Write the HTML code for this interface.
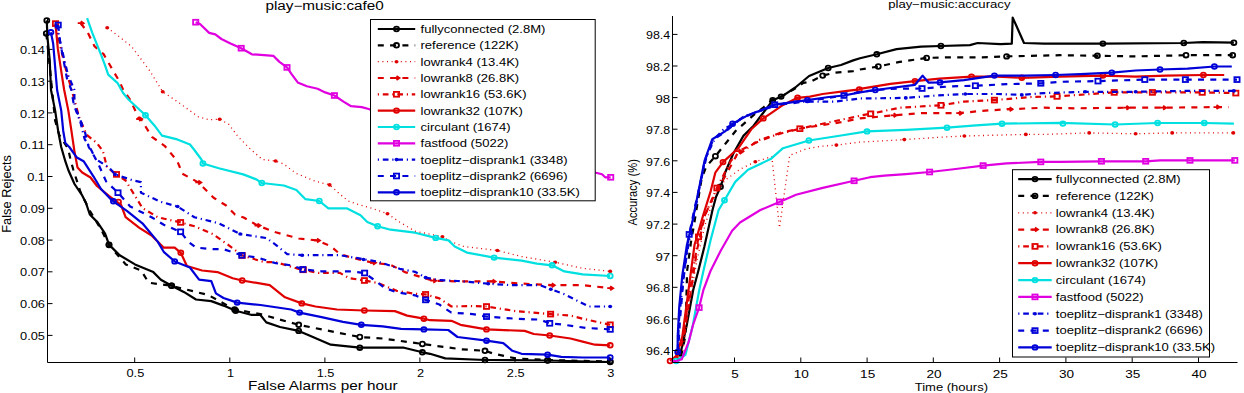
<!DOCTYPE html>
<html><head><meta charset="utf-8"><title>plot</title>
<style>html,body{margin:0;padding:0;background:#fff;overflow:hidden;} svg{display:block;font-family:"Liberation Sans",sans-serif;}</style>
</head><body>
<svg width="1244" height="393" viewBox="0 0 1244 393" font-family="Liberation Sans, sans-serif" fill="#000">
<rect width="1244" height="393" fill="#fff"/>
<polyline points="46.8,20.4 47.4,36.9 49.7,59.8 51.0,90.0 55.1,110.4 58.1,130.7 61.2,147.0 65.3,161.2 68.3,170.0 74.5,184.0 82.2,195.4 86.0,203.0 89.8,214.5 97.4,222.1 105.1,233.6 109.0,244.6 119.7,255.3 135.0,264.4 153.3,272.1 160.9,279.7 171.6,285.8 183.8,291.9 196.0,299.5 211.3,301.1 223.5,305.6 235.7,310.8 251.0,314.8 260.2,314.8 266.3,322.4 280.0,327.0 298.7,330.9 309.4,335.5 330.8,344.7 359.8,347.7 404.0,347.7 422.4,352.3 430.0,353.8 445.3,358.4 485.0,360.0 547.6,360.5 610.2,362.0" fill="none" stroke="#000000" stroke-width="2.2" stroke-linejoin="round"/>
<ellipse cx="46.8" cy="20.4" rx="2.5" ry="2.3" fill="none" stroke="#000000" stroke-width="1.8"/>
<ellipse cx="109.0" cy="244.6" rx="2.5" ry="2.3" fill="none" stroke="#000000" stroke-width="1.8"/>
<ellipse cx="171.6" cy="285.8" rx="2.5" ry="2.3" fill="none" stroke="#000000" stroke-width="1.8"/>
<ellipse cx="235.7" cy="310.8" rx="2.5" ry="2.3" fill="none" stroke="#000000" stroke-width="1.8"/>
<ellipse cx="298.7" cy="330.9" rx="2.5" ry="2.3" fill="none" stroke="#000000" stroke-width="1.8"/>
<ellipse cx="359.8" cy="347.7" rx="2.5" ry="2.3" fill="none" stroke="#000000" stroke-width="1.8"/>
<ellipse cx="422.4" cy="352.3" rx="2.5" ry="2.3" fill="none" stroke="#000000" stroke-width="1.8"/>
<ellipse cx="485.0" cy="360.0" rx="2.5" ry="2.3" fill="none" stroke="#000000" stroke-width="1.8"/>
<ellipse cx="547.6" cy="360.5" rx="2.5" ry="2.3" fill="none" stroke="#000000" stroke-width="1.8"/>
<ellipse cx="610.2" cy="362.0" rx="2.5" ry="2.3" fill="none" stroke="#000000" stroke-width="1.8"/>
<polyline points="46.3,33.5 48.6,55.3 50.9,78.2 53.1,100.2 55.1,120.5 59.2,134.8 68.3,149.0 70.4,159.2 73.4,170.0 80.3,191.6 89.8,210.7 101.3,229.8 109.0,245.0 115.1,252.2 125.8,264.4 141.1,270.5 148.7,282.7 171.6,285.8 183.8,288.9 208.2,295.0 234.6,309.5 260.5,314.1 298.7,324.8 321.6,329.4 359.8,337.0 382.7,338.5 422.4,344.0 460.5,349.2 485.0,350.8 494.1,353.8 515.5,358.4 546.0,360.0 610.2,361.5" fill="none" stroke="#000000" stroke-width="2.2" stroke-dasharray="6 6.3" stroke-linejoin="round"/>
<ellipse cx="46.3" cy="33.5" rx="2.5" ry="2.3" fill="none" stroke="#000000" stroke-width="1.8"/>
<ellipse cx="109.0" cy="245.0" rx="2.5" ry="2.3" fill="none" stroke="#000000" stroke-width="1.8"/>
<ellipse cx="171.6" cy="285.8" rx="2.5" ry="2.3" fill="none" stroke="#000000" stroke-width="1.8"/>
<ellipse cx="234.6" cy="309.5" rx="2.5" ry="2.3" fill="none" stroke="#000000" stroke-width="1.8"/>
<ellipse cx="298.7" cy="324.8" rx="2.5" ry="2.3" fill="none" stroke="#000000" stroke-width="1.8"/>
<ellipse cx="359.8" cy="337.0" rx="2.5" ry="2.3" fill="none" stroke="#000000" stroke-width="1.8"/>
<ellipse cx="422.4" cy="344.0" rx="2.5" ry="2.3" fill="none" stroke="#000000" stroke-width="1.8"/>
<ellipse cx="485.0" cy="350.8" rx="2.5" ry="2.3" fill="none" stroke="#000000" stroke-width="1.8"/>
<ellipse cx="547.6" cy="360.2" rx="2.5" ry="2.3" fill="none" stroke="#000000" stroke-width="1.8"/>
<ellipse cx="610.2" cy="361.5" rx="2.5" ry="2.3" fill="none" stroke="#000000" stroke-width="1.8"/>
<polyline points="107.2,27.7 119.6,36.9 131.6,46.6 149.9,71.0 162.7,91.8 177.4,101.6 198.3,116.8 209.0,119.8 219.7,119.2 228.9,124.4 238.0,136.6 250.2,148.9 262.4,159.5 275.6,161.0 283.8,164.1 296.0,173.3 314.4,180.9 329.6,184.9 338.8,193.1 347.9,200.8 355.9,203.7 371.9,208.3 387.5,213.8 399.7,222.1 415.0,231.2 442.4,236.7 451.6,241.9 463.8,246.5 497.4,250.5 521.8,256.6 555.2,262.2 582.7,268.3 610.2,271.4" fill="none" stroke="#e00000" stroke-width="1.3" stroke-dasharray="1 3.6" stroke-linejoin="round"/>
<ellipse cx="107.2" cy="27.7" rx="2" ry="1.8" fill="#e00000"/>
<ellipse cx="162.7" cy="91.8" rx="2" ry="1.8" fill="#e00000"/>
<ellipse cx="219.7" cy="119.2" rx="2" ry="1.8" fill="#e00000"/>
<ellipse cx="275.6" cy="161.0" rx="2" ry="1.8" fill="#e00000"/>
<ellipse cx="329.6" cy="184.9" rx="2" ry="1.8" fill="#e00000"/>
<ellipse cx="387.5" cy="213.8" rx="2" ry="1.8" fill="#e00000"/>
<ellipse cx="442.4" cy="236.7" rx="2" ry="1.8" fill="#e00000"/>
<ellipse cx="497.4" cy="250.5" rx="2" ry="1.8" fill="#e00000"/>
<ellipse cx="555.2" cy="262.2" rx="2" ry="1.8" fill="#e00000"/>
<ellipse cx="610.2" cy="271.4" rx="2" ry="1.8" fill="#e00000"/>
<polyline points="80.7,23.2 87.6,32.3 94.4,46.1 103.6,54.1 108.2,62.1 112.8,70.2 119.6,81.6 123.1,89.6 130.3,100.0 139.2,119.0 141.7,120.3 151.9,136.9 164.6,145.8 177.3,161.0 182.4,173.7 198.3,182.4 213.6,197.7 225.8,205.3 235.0,214.5 243.7,217.5 257.5,225.5 275.8,232.3 298.7,238.5 317.0,240.4 330.7,246.1 339.9,254.1 351.3,257.5 373.0,262.8 390.5,264.8 405.8,272.4 418.0,276.1 433.3,280.7 460.5,281.4 492.6,281.4 521.6,283.6 551.5,285.1 582.7,285.1 610.2,288.2" fill="none" stroke="#e00000" stroke-width="2.2" stroke-dasharray="6 6.3" stroke-linejoin="round"/>
<path d="M77.7,23.2H82.7M80.7,21.2L83.7,23.2L80.7,25.2" fill="none" stroke="#e00000" stroke-width="1.8"/>
<path d="M136.2,119.0H141.2M139.2,117.0L142.2,119.0L139.2,121.0" fill="none" stroke="#e00000" stroke-width="1.8"/>
<path d="M195.3,182.4H200.3M198.3,180.4L201.3,182.4L198.3,184.4" fill="none" stroke="#e00000" stroke-width="1.8"/>
<path d="M254.5,225.5H259.5M257.5,223.5L260.5,225.5L257.5,227.5" fill="none" stroke="#e00000" stroke-width="1.8"/>
<path d="M314.0,240.4H319.0M317.0,238.4L320.0,240.4L317.0,242.4" fill="none" stroke="#e00000" stroke-width="1.8"/>
<path d="M370.0,262.8H375.0M373.0,260.8L376.0,262.8L373.0,264.8" fill="none" stroke="#e00000" stroke-width="1.8"/>
<path d="M430.3,280.7H435.3M433.3,278.7L436.3,280.7L433.3,282.7" fill="none" stroke="#e00000" stroke-width="1.8"/>
<path d="M489.6,281.4H494.6M492.6,279.4L495.6,281.4L492.6,283.4" fill="none" stroke="#e00000" stroke-width="1.8"/>
<path d="M548.8,285.3H553.8M551.8,283.3L554.8,285.3L551.8,287.3" fill="none" stroke="#e00000" stroke-width="1.8"/>
<path d="M607.2,288.2H612.2M610.2,286.2L613.2,288.2L610.2,290.2" fill="none" stroke="#e00000" stroke-width="1.8"/>
<polyline points="55.5,23.6 60.0,45.0 66.0,70.0 73.4,96.1 79.5,118.5 86.6,134.8 96.8,142.9 102.9,151.1 107.0,167.4 116.5,174.4 125.6,180.5 142.4,208.0 157.7,217.2 180.6,222.4 194.4,226.3 212.7,234.0 227.9,244.7 242.2,255.5 264.3,262.1 275.8,262.2 298.7,269.0 303.3,269.8 318.5,272.9 339.9,272.9 349.0,278.1 364.4,280.5 378.3,283.1 396.6,290.8 415.0,293.8 425.6,294.4 439.4,298.4 451.4,306.5 470.0,306.0 486.5,306.5 515.5,311.1 550.6,314.1 570.5,315.6 582.7,318.7 610.2,324.8" fill="none" stroke="#e00000" stroke-width="2.2" stroke-dasharray="5.7 3.8 1.2 3.8" stroke-linejoin="round"/>
<rect x="52.9" y="21.2" width="5.2" height="4.8" fill="none" stroke="#e00000" stroke-width="1.8"/>
<rect x="113.9" y="172.0" width="5.2" height="4.8" fill="none" stroke="#e00000" stroke-width="1.8"/>
<rect x="178.0" y="220.0" width="5.2" height="4.8" fill="none" stroke="#e00000" stroke-width="1.8"/>
<rect x="239.6" y="253.1" width="5.2" height="4.8" fill="none" stroke="#e00000" stroke-width="1.8"/>
<rect x="300.7" y="267.4" width="5.2" height="4.8" fill="none" stroke="#e00000" stroke-width="1.8"/>
<rect x="361.8" y="278.1" width="5.2" height="4.8" fill="none" stroke="#e00000" stroke-width="1.8"/>
<rect x="423.0" y="292.0" width="5.2" height="4.8" fill="none" stroke="#e00000" stroke-width="1.8"/>
<rect x="483.9" y="304.1" width="5.2" height="4.8" fill="none" stroke="#e00000" stroke-width="1.8"/>
<rect x="548.0" y="311.7" width="5.2" height="4.8" fill="none" stroke="#e00000" stroke-width="1.8"/>
<rect x="607.6" y="322.4" width="5.2" height="4.8" fill="none" stroke="#e00000" stroke-width="1.8"/>
<polyline points="55.5,23.6 57.8,48.4 62.3,78.2 64.2,90.0 68.3,110.4 71.4,130.7 74.4,151.1 77.5,167.4 82.2,172.5 90.5,177.5 97.0,186.0 108.9,195.8 121.1,205.0 125.6,217.2 139.4,227.9 151.6,235.5 163.8,247.7 174.7,247.6 180.8,252.8 186.9,266.0 202.1,270.5 217.4,272.1 232.7,278.2 242.2,280.5 269.7,285.1 285.0,297.3 301.8,303.4 315.5,306.5 336.9,309.5 364.4,310.5 394.9,311.1 407.1,315.6 423.9,318.7 430.0,320.2 451.4,320.8 460.5,324.8 486.5,329.4 524.7,330.9 533.8,334.0 549.7,335.5 570.5,338.5 582.7,341.6 594.9,344.7 610.2,345.3" fill="none" stroke="#e00000" stroke-width="2.2" stroke-linejoin="round"/>
<ellipse cx="118.5" cy="202.0" rx="2.5" ry="2.3" fill="none" stroke="#e00000" stroke-width="1.8"/>
<ellipse cx="180.8" cy="252.8" rx="2.5" ry="2.3" fill="none" stroke="#e00000" stroke-width="1.8"/>
<ellipse cx="242.2" cy="280.5" rx="2.5" ry="2.3" fill="none" stroke="#e00000" stroke-width="1.8"/>
<ellipse cx="301.8" cy="303.4" rx="2.5" ry="2.3" fill="none" stroke="#e00000" stroke-width="1.8"/>
<ellipse cx="364.4" cy="310.5" rx="2.5" ry="2.3" fill="none" stroke="#e00000" stroke-width="1.8"/>
<ellipse cx="423.9" cy="318.7" rx="2.5" ry="2.3" fill="none" stroke="#e00000" stroke-width="1.8"/>
<ellipse cx="486.5" cy="329.4" rx="2.5" ry="2.3" fill="none" stroke="#e00000" stroke-width="1.8"/>
<ellipse cx="549.7" cy="335.5" rx="2.5" ry="2.3" fill="none" stroke="#e00000" stroke-width="1.8"/>
<ellipse cx="610.2" cy="345.3" rx="2.5" ry="2.3" fill="none" stroke="#e00000" stroke-width="1.8"/>
<polyline points="87.1,18.1 92.1,32.3 101.3,55.3 104.7,64.4 108.2,74.7 117.4,82.8 123.1,93.0 129.0,100.0 145.5,115.3 154.4,125.4 162.0,135.6 177.3,139.4 190.0,144.5 194.4,150.0 201.4,159.5 202.9,163.5 218.8,168.3 243.2,174.4 256.3,179.4 261.8,183.0 283.8,185.5 296.4,190.0 305.5,199.2 319.3,201.0 328.4,208.3 346.7,208.3 360.5,215.2 367.3,222.0 377.6,226.2 390.5,229.7 415.0,232.7 435.7,237.9 448.5,240.4 454.7,246.5 466.9,252.6 494.1,257.6 521.6,260.7 536.9,263.7 552.1,265.3 564.4,271.4 582.7,274.4 610.2,276.0" fill="none" stroke="#00e0e0" stroke-width="2.2" stroke-linejoin="round"/>
<ellipse cx="145.5" cy="115.3" rx="2.5" ry="2.3" fill="none" stroke="#00e0e0" stroke-width="1.8"/>
<ellipse cx="202.9" cy="163.5" rx="2.5" ry="2.3" fill="none" stroke="#00e0e0" stroke-width="1.8"/>
<ellipse cx="261.8" cy="183.0" rx="2.5" ry="2.3" fill="none" stroke="#00e0e0" stroke-width="1.8"/>
<ellipse cx="319.3" cy="201.0" rx="2.5" ry="2.3" fill="none" stroke="#00e0e0" stroke-width="1.8"/>
<ellipse cx="377.6" cy="226.2" rx="2.5" ry="2.3" fill="none" stroke="#00e0e0" stroke-width="1.8"/>
<ellipse cx="435.7" cy="237.9" rx="2.5" ry="2.3" fill="none" stroke="#00e0e0" stroke-width="1.8"/>
<ellipse cx="494.1" cy="257.6" rx="2.5" ry="2.3" fill="none" stroke="#00e0e0" stroke-width="1.8"/>
<ellipse cx="552.1" cy="265.3" rx="2.5" ry="2.3" fill="none" stroke="#00e0e0" stroke-width="1.8"/>
<ellipse cx="610.2" cy="276.0" rx="2.5" ry="2.3" fill="none" stroke="#00e0e0" stroke-width="1.8"/>
<polyline points="195.7,22.2 200.0,24.0 209.2,32.9 215.3,34.4 221.4,39.0 230.5,43.6 241.2,48.2 251.9,54.3 264.1,55.2 273.3,55.8 279.4,61.9 287.0,67.4 291.6,74.1 297.7,82.4 306.9,86.3 317.6,88.8 325.2,92.4 334.4,95.5 343.5,101.6 351.1,106.2 361.8,107.1 369.5,109.2 380.0,115.0 400.0,122.0 430.0,130.0 460.0,140.0 490.0,148.0 520.0,155.0 550.0,160.0 575.0,165.0 596.0,172.7 602.0,174.3 605.2,177.3 610.7,177.3" fill="none" stroke="#e000e0" stroke-width="2.2" stroke-linejoin="round"/>
<rect x="193.1" y="19.8" width="5.2" height="4.8" fill="none" stroke="#e000e0" stroke-width="1.8"/>
<rect x="238.6" y="45.8" width="5.2" height="4.8" fill="none" stroke="#e000e0" stroke-width="1.8"/>
<rect x="284.4" y="65.0" width="5.2" height="4.8" fill="none" stroke="#e000e0" stroke-width="1.8"/>
<rect x="331.8" y="93.1" width="5.2" height="4.8" fill="none" stroke="#e000e0" stroke-width="1.8"/>
<rect x="608.1" y="174.9" width="5.2" height="4.8" fill="none" stroke="#e000e0" stroke-width="1.8"/>
<polyline points="56.5,24.0 62.0,50.0 68.0,75.0 74.4,90.0 74.4,106.3 80.5,122.6 84.6,138.9 90.7,149.0 95.8,159.2 109.0,167.4 115.0,174.4 133.3,180.5 140.9,182.1 140.9,192.7 160.8,201.9 177.6,206.5 194.4,217.2 218.8,223.3 240.2,234.0 266.6,238.1 275.8,244.9 287.2,254.1 302.1,255.2 339.9,255.2 360.5,258.7 378.3,261.8 399.7,268.8 415.0,271.8 425.6,277.6 439.4,280.1 457.7,281.0 488.2,283.7 509.4,285.1 539.9,285.1 550.8,289.2 564.4,294.3 576.6,300.4 588.8,306.5 610.2,306.5" fill="none" stroke="#0000d8" stroke-width="2.2" stroke-dasharray="5.7 3.8 1.2 3.8" stroke-linejoin="round"/>
<ellipse cx="115.0" cy="174.4" rx="2" ry="1.8" fill="#0000d8"/>
<ellipse cx="177.6" cy="206.5" rx="2" ry="1.8" fill="#0000d8"/>
<ellipse cx="240.2" cy="234.0" rx="2" ry="1.8" fill="#0000d8"/>
<ellipse cx="302.1" cy="255.2" rx="2" ry="1.8" fill="#0000d8"/>
<ellipse cx="363.5" cy="259.5" rx="2" ry="1.8" fill="#0000d8"/>
<ellipse cx="425.6" cy="277.6" rx="2" ry="1.8" fill="#0000d8"/>
<ellipse cx="488.2" cy="283.7" rx="2" ry="1.8" fill="#0000d8"/>
<ellipse cx="550.8" cy="289.2" rx="2" ry="1.8" fill="#0000d8"/>
<ellipse cx="610.2" cy="306.5" rx="2" ry="1.8" fill="#0000d8"/>
<polyline points="58.2,25.0 60.0,41.5 63.5,59.8 66.9,78.2 71.4,90.0 73.4,102.2 76.5,110.4 80.5,120.5 84.6,130.7 88.7,147.0 94.8,157.2 98.9,165.3 106.1,181.4 118.0,192.7 130.2,206.5 151.6,217.2 163.8,224.8 180.6,231.8 188.2,241.6 196.0,247.6 212.7,249.2 223.5,249.2 241.8,255.3 257.5,257.5 275.8,263.2 291.8,265.5 302.8,269.4 321.6,271.3 349.0,271.3 364.6,273.0 372.2,278.5 384.4,287.7 396.6,292.3 415.0,295.3 425.6,299.9 439.4,304.5 442.2,306.5 451.4,312.6 472.7,314.1 486.5,316.6 515.5,318.7 539.9,319.6 549.7,323.3 564.4,324.8 585.7,327.9 610.2,329.4" fill="none" stroke="#0000d8" stroke-width="2.2" stroke-dasharray="6 6.3" stroke-linejoin="round"/>
<rect x="55.6" y="22.6" width="5.2" height="4.8" fill="none" stroke="#0000d8" stroke-width="1.8"/>
<rect x="115.4" y="190.3" width="5.2" height="4.8" fill="none" stroke="#0000d8" stroke-width="1.8"/>
<rect x="178.0" y="229.4" width="5.2" height="4.8" fill="none" stroke="#0000d8" stroke-width="1.8"/>
<rect x="239.2" y="252.9" width="5.2" height="4.8" fill="none" stroke="#0000d8" stroke-width="1.8"/>
<rect x="300.2" y="267.0" width="5.2" height="4.8" fill="none" stroke="#0000d8" stroke-width="1.8"/>
<rect x="362.0" y="270.6" width="5.2" height="4.8" fill="none" stroke="#0000d8" stroke-width="1.8"/>
<rect x="423.0" y="297.5" width="5.2" height="4.8" fill="none" stroke="#0000d8" stroke-width="1.8"/>
<rect x="483.9" y="314.2" width="5.2" height="4.8" fill="none" stroke="#0000d8" stroke-width="1.8"/>
<rect x="547.1" y="320.9" width="5.2" height="4.8" fill="none" stroke="#0000d8" stroke-width="1.8"/>
<rect x="607.6" y="327.0" width="5.2" height="4.8" fill="none" stroke="#0000d8" stroke-width="1.8"/>
<polyline points="50.9,32.3 53.2,43.8 55.5,71.3 57.1,90.0 61.2,110.4 63.2,130.7 65.3,142.9 69.3,147.0 76.5,157.2 83.6,161.2 93.4,176.3 101.0,189.0 110.8,199.2 113.4,201.3 127.2,211.1 142.4,223.3 157.7,241.6 164.0,252.2 174.7,261.4 189.9,267.5 199.1,279.7 211.3,281.2 215.9,293.4 223.5,298.0 237.2,302.6 251.0,304.1 260.5,305.0 291.1,309.5 299.6,312.6 321.6,317.2 343.0,321.8 361.3,324.8 382.7,326.3 401.0,328.8 423.9,329.4 448.3,330.0 457.5,337.0 486.5,340.7 503.3,343.1 512.4,350.8 521.6,353.8 547.6,354.7 561.3,356.9 582.7,357.5 610.2,357.5" fill="none" stroke="#0000d8" stroke-width="2.2" stroke-linejoin="round"/>
<ellipse cx="50.9" cy="32.3" rx="2.5" ry="2.3" fill="none" stroke="#0000d8" stroke-width="1.8"/>
<ellipse cx="113.4" cy="201.3" rx="2.5" ry="2.3" fill="none" stroke="#0000d8" stroke-width="1.8"/>
<ellipse cx="174.7" cy="261.4" rx="2.5" ry="2.3" fill="none" stroke="#0000d8" stroke-width="1.8"/>
<ellipse cx="237.2" cy="302.6" rx="2.5" ry="2.3" fill="none" stroke="#0000d8" stroke-width="1.8"/>
<ellipse cx="299.6" cy="312.6" rx="2.5" ry="2.3" fill="none" stroke="#0000d8" stroke-width="1.8"/>
<ellipse cx="361.3" cy="324.8" rx="2.5" ry="2.3" fill="none" stroke="#0000d8" stroke-width="1.8"/>
<ellipse cx="423.9" cy="329.4" rx="2.5" ry="2.3" fill="none" stroke="#0000d8" stroke-width="1.8"/>
<ellipse cx="486.5" cy="340.7" rx="2.5" ry="2.3" fill="none" stroke="#0000d8" stroke-width="1.8"/>
<ellipse cx="547.6" cy="354.7" rx="2.5" ry="2.3" fill="none" stroke="#0000d8" stroke-width="1.8"/>
<ellipse cx="610.2" cy="357.5" rx="2.5" ry="2.3" fill="none" stroke="#0000d8" stroke-width="1.8"/>
<polyline points="679.3,356.5 680.8,351.9 686.9,324.4 693.2,290.0 698.3,271.0 704.4,246.6 712.5,210.0 716.0,197.0 720.5,186.8 725.6,171.5 733.2,153.7 743.4,135.9 753.6,125.7 761.2,115.5 768.9,105.3 772.7,100.2 781.6,96.6 795.3,87.5 809.1,76.0 828.2,68.0 841.0,65.0 853.2,60.4 860.0,58.2 876.8,54.3 896.6,49.1 921.1,46.6 940.9,46.0 969.9,45.1 977.6,43.0 1000.5,44.2 1011.8,43.6 1012.7,17.6 1024.0,43.0 1044.0,43.6 1102.9,43.6 1183.8,43.0 1202.8,42.1 1233.9,42.7" fill="none" stroke="#000000" stroke-width="2.2" stroke-linejoin="round"/>
<ellipse cx="679.3" cy="356.5" rx="2.5" ry="2.3" fill="none" stroke="#000000" stroke-width="1.8"/>
<ellipse cx="720.5" cy="186.8" rx="2.5" ry="2.3" fill="none" stroke="#000000" stroke-width="1.8"/>
<ellipse cx="772.7" cy="100.2" rx="2.5" ry="2.3" fill="none" stroke="#000000" stroke-width="1.8"/>
<ellipse cx="828.2" cy="68.0" rx="2.5" ry="2.3" fill="none" stroke="#000000" stroke-width="1.8"/>
<ellipse cx="876.8" cy="54.3" rx="2.5" ry="2.3" fill="none" stroke="#000000" stroke-width="1.8"/>
<ellipse cx="940.9" cy="46.0" rx="2.5" ry="2.3" fill="none" stroke="#000000" stroke-width="1.8"/>
<ellipse cx="1102.9" cy="43.6" rx="2.5" ry="2.3" fill="none" stroke="#000000" stroke-width="1.8"/>
<ellipse cx="1183.8" cy="43.0" rx="2.5" ry="2.3" fill="none" stroke="#000000" stroke-width="1.8"/>
<ellipse cx="1233.9" cy="42.7" rx="2.5" ry="2.3" fill="none" stroke="#000000" stroke-width="1.8"/>
<polyline points="681.0,356.5 685.4,336.0 687.1,271.0 691.2,240.5 694.0,225.0 697.0,206.3 701.6,178.9 706.2,166.6 715.4,156.2 725.6,143.5 735.8,130.8 746.0,121.8 756.1,112.9 766.3,105.3 774.3,97.8 781.1,96.6 793.0,89.8 803.4,82.9 810.5,81.8 822.7,75.6 834.9,72.6 853.2,71.1 860.0,69.5 878.3,66.5 899.7,61.9 926.6,57.9 951.6,57.3 982.1,57.3 1006.6,56.4 1060.0,55.2 1097.4,55.8 1135.6,56.4 1186.0,55.2 1232.7,55.2" fill="none" stroke="#000000" stroke-width="2.2" stroke-dasharray="6 6.3" stroke-linejoin="round"/>
<ellipse cx="715.4" cy="156.2" rx="2.5" ry="2.3" fill="none" stroke="#000000" stroke-width="1.8"/>
<ellipse cx="781.1" cy="96.6" rx="2.5" ry="2.3" fill="none" stroke="#000000" stroke-width="1.8"/>
<ellipse cx="822.7" cy="75.6" rx="2.5" ry="2.3" fill="none" stroke="#000000" stroke-width="1.8"/>
<ellipse cx="878.3" cy="66.5" rx="2.5" ry="2.3" fill="none" stroke="#000000" stroke-width="1.8"/>
<ellipse cx="926.6" cy="57.9" rx="2.5" ry="2.3" fill="none" stroke="#000000" stroke-width="1.8"/>
<ellipse cx="1006.6" cy="56.4" rx="2.5" ry="2.3" fill="none" stroke="#000000" stroke-width="1.8"/>
<ellipse cx="1097.4" cy="55.8" rx="2.5" ry="2.3" fill="none" stroke="#000000" stroke-width="1.8"/>
<ellipse cx="1186.0" cy="55.2" rx="2.5" ry="2.3" fill="none" stroke="#000000" stroke-width="1.8"/>
<ellipse cx="1232.7" cy="55.2" rx="2.5" ry="2.3" fill="none" stroke="#000000" stroke-width="1.8"/>
<polyline points="677.0,358.0 683.0,350.0 690.0,300.0 697.0,260.0 705.0,225.0 715.0,195.0 725.0,180.2 740.0,169.3 755.3,161.7 771.8,156.6 779.5,227.9 789.7,155.3 806.2,148.9 820.0,146.4 836.4,145.1 860.0,142.1 904.3,139.6 936.3,137.5 964.4,136.0 1025.8,134.4 1044.0,134.4 1089.2,132.9 1135.6,133.8 1172.2,132.9 1233.3,132.9" fill="none" stroke="#e00000" stroke-width="1.3" stroke-dasharray="1 3.6" stroke-linejoin="round"/>
<ellipse cx="755.3" cy="161.7" rx="2" ry="1.8" fill="#e00000"/>
<ellipse cx="836.4" cy="145.1" rx="2" ry="1.8" fill="#e00000"/>
<ellipse cx="904.3" cy="139.6" rx="2" ry="1.8" fill="#e00000"/>
<ellipse cx="964.4" cy="136.0" rx="2" ry="1.8" fill="#e00000"/>
<ellipse cx="1025.8" cy="134.4" rx="2" ry="1.8" fill="#e00000"/>
<ellipse cx="1089.2" cy="132.9" rx="2" ry="1.8" fill="#e00000"/>
<ellipse cx="1135.6" cy="133.8" rx="2" ry="1.8" fill="#e00000"/>
<ellipse cx="1172.2" cy="132.9" rx="2" ry="1.8" fill="#e00000"/>
<ellipse cx="1233.3" cy="132.9" rx="2" ry="1.8" fill="#e00000"/>
<polyline points="677.0,358.0 684.0,336.0 691.0,290.0 697.0,250.0 705.0,215.0 712.7,198.5 728.0,171.1 738.7,151.2 756.4,142.4 779.9,132.9 801.3,128.3 841.0,122.2 860.0,118.4 893.6,115.3 921.1,113.2 959.2,113.2 982.1,110.8 1009.6,109.2 1044.0,107.7 1074.5,108.3 1126.4,107.7 1163.1,107.7 1216.5,107.1 1228.7,107.1" fill="none" stroke="#e00000" stroke-width="2.2" stroke-dasharray="6 6.3" stroke-linejoin="round"/>
<path d="M735.7,151.2H740.7M738.7,149.2L741.7,151.2L738.7,153.2" fill="none" stroke="#e00000" stroke-width="1.8"/>
<path d="M890.6,115.3H895.6M893.6,113.3L896.6,115.3L893.6,117.3" fill="none" stroke="#e00000" stroke-width="1.8"/>
<path d="M956.2,113.2H961.2M959.2,111.2L962.2,113.2L959.2,115.2" fill="none" stroke="#e00000" stroke-width="1.8"/>
<path d="M1006.6,109.2H1011.6M1009.6,107.2L1012.6,109.2L1009.6,111.2" fill="none" stroke="#e00000" stroke-width="1.8"/>
<path d="M1123.4,107.7H1128.4M1126.4,105.7L1129.4,107.7L1126.4,109.7" fill="none" stroke="#e00000" stroke-width="1.8"/>
<path d="M1160.1,107.7H1165.1M1163.1,105.7L1166.1,107.7L1163.1,109.7" fill="none" stroke="#e00000" stroke-width="1.8"/>
<path d="M1213.5,107.1H1218.5M1216.5,105.1L1219.5,107.1L1216.5,109.1" fill="none" stroke="#e00000" stroke-width="1.8"/>
<polyline points="676.0,358.0 683.0,336.0 690.0,290.0 698.5,236.9 705.0,215.0 716.9,188.0 731.1,160.4 749.4,146.6 758.7,140.1 781.6,133.3 799.9,128.7 822.7,123.7 865.4,114.6 870.7,113.8 899.7,107.7 940.9,105.3 963.8,101.6 994.4,100.1 1031.0,97.0 1057.0,96.4 1114.2,92.4 1152.4,92.4 1202.2,92.4 1235.8,93.1" fill="none" stroke="#e00000" stroke-width="2.2" stroke-dasharray="5.7 3.8 1.2 3.8" stroke-linejoin="round"/>
<rect x="695.9" y="234.5" width="5.2" height="4.8" fill="none" stroke="#e00000" stroke-width="1.8"/>
<rect x="714.3" y="185.6" width="5.2" height="4.8" fill="none" stroke="#e00000" stroke-width="1.8"/>
<rect x="797.3" y="126.3" width="5.2" height="4.8" fill="none" stroke="#e00000" stroke-width="1.8"/>
<rect x="868.1" y="111.4" width="5.2" height="4.8" fill="none" stroke="#e00000" stroke-width="1.8"/>
<rect x="938.3" y="102.9" width="5.2" height="4.8" fill="none" stroke="#e00000" stroke-width="1.8"/>
<rect x="991.8" y="97.7" width="5.2" height="4.8" fill="none" stroke="#e00000" stroke-width="1.8"/>
<rect x="1054.4" y="94.0" width="5.2" height="4.8" fill="none" stroke="#e00000" stroke-width="1.8"/>
<rect x="1111.6" y="90.0" width="5.2" height="4.8" fill="none" stroke="#e00000" stroke-width="1.8"/>
<rect x="1149.8" y="90.0" width="5.2" height="4.8" fill="none" stroke="#e00000" stroke-width="1.8"/>
<rect x="1199.6" y="90.0" width="5.2" height="4.8" fill="none" stroke="#e00000" stroke-width="1.8"/>
<rect x="1233.2" y="90.7" width="5.2" height="4.8" fill="none" stroke="#e00000" stroke-width="1.8"/>
<polyline points="670.1,361.0 676.0,356.0 682.3,336.6 688.4,290.8 694.5,245.0 703.1,215.5 710.7,191.1 715.3,172.7 723.0,162.1 738.2,148.3 751.8,128.7 763.3,118.4 770.1,113.8 781.6,105.8 797.6,97.8 810.0,96.6 822.7,94.0 847.1,90.9 859.3,89.4 860.0,88.8 890.5,83.9 915.0,81.1 939.4,78.7 971.5,76.6 997.4,76.6 1021.8,77.8 1060.0,76.6 1102.9,75.6 1135.6,76.6 1166.1,75.6 1203.4,75.0 1224.2,75.0" fill="none" stroke="#e00000" stroke-width="2.2" stroke-linejoin="round"/>
<ellipse cx="670.1" cy="361.0" rx="2.5" ry="2.3" fill="none" stroke="#e00000" stroke-width="1.8"/>
<ellipse cx="723.0" cy="162.1" rx="2.5" ry="2.3" fill="none" stroke="#e00000" stroke-width="1.8"/>
<ellipse cx="763.3" cy="118.4" rx="2.5" ry="2.3" fill="none" stroke="#e00000" stroke-width="1.8"/>
<ellipse cx="797.6" cy="97.8" rx="2.5" ry="2.3" fill="none" stroke="#e00000" stroke-width="1.8"/>
<ellipse cx="859.3" cy="89.4" rx="2.5" ry="2.3" fill="none" stroke="#e00000" stroke-width="1.8"/>
<ellipse cx="915.0" cy="81.1" rx="2.5" ry="2.3" fill="none" stroke="#e00000" stroke-width="1.8"/>
<ellipse cx="971.5" cy="76.6" rx="2.5" ry="2.3" fill="none" stroke="#e00000" stroke-width="1.8"/>
<ellipse cx="1021.8" cy="77.8" rx="2.5" ry="2.3" fill="none" stroke="#e00000" stroke-width="1.8"/>
<ellipse cx="1102.9" cy="75.6" rx="2.5" ry="2.3" fill="none" stroke="#e00000" stroke-width="1.8"/>
<ellipse cx="1203.4" cy="75.0" rx="2.5" ry="2.3" fill="none" stroke="#e00000" stroke-width="1.8"/>
<polyline points="676.2,361.0 685.4,354.9 693.0,324.4 699.1,290.8 703.4,271.0 710.5,240.5 718.6,210.0 724.5,200.2 735.2,181.9 748.0,169.7 770.6,159.1 783.0,148.2 808.9,140.5 837.9,136.0 867.0,131.4 905.8,129.8 947.0,127.7 976.0,125.3 1002.0,123.7 1060.0,122.8 1115.1,124.5 1157.6,123.0 1204.3,123.0 1233.9,123.6" fill="none" stroke="#00e0e0" stroke-width="2.2" stroke-linejoin="round"/>
<ellipse cx="676.2" cy="361.0" rx="2.5" ry="2.3" fill="none" stroke="#00e0e0" stroke-width="1.8"/>
<ellipse cx="724.5" cy="200.2" rx="2.5" ry="2.3" fill="none" stroke="#00e0e0" stroke-width="1.8"/>
<ellipse cx="808.9" cy="140.5" rx="2.5" ry="2.3" fill="none" stroke="#00e0e0" stroke-width="1.8"/>
<ellipse cx="867.0" cy="131.4" rx="2.5" ry="2.3" fill="none" stroke="#00e0e0" stroke-width="1.8"/>
<ellipse cx="947.0" cy="127.7" rx="2.5" ry="2.3" fill="none" stroke="#00e0e0" stroke-width="1.8"/>
<ellipse cx="1002.0" cy="123.7" rx="2.5" ry="2.3" fill="none" stroke="#00e0e0" stroke-width="1.8"/>
<ellipse cx="1062.9" cy="123.6" rx="2.5" ry="2.3" fill="none" stroke="#00e0e0" stroke-width="1.8"/>
<ellipse cx="1115.1" cy="124.5" rx="2.5" ry="2.3" fill="none" stroke="#00e0e0" stroke-width="1.8"/>
<ellipse cx="1157.6" cy="123.0" rx="2.5" ry="2.3" fill="none" stroke="#00e0e0" stroke-width="1.8"/>
<ellipse cx="1204.3" cy="123.0" rx="2.5" ry="2.3" fill="none" stroke="#00e0e0" stroke-width="1.8"/>
<polyline points="671.6,361.0 676.6,361.0 681.7,359.3 688.6,342.2 693.0,325.0 699.1,307.6 703.4,290.0 710.5,271.0 720.7,250.7 732.1,230.8 740.0,222.5 760.4,210.0 779.5,201.9 796.0,194.8 822.7,187.9 854.1,180.8 870.0,177.2 884.4,175.6 905.8,174.1 929.6,172.0 951.6,169.5 963.8,168.0 983.1,165.6 1006.6,163.4 1040.8,161.9 1060.0,161.9 1101.4,161.3 1145.7,161.3 1160.0,160.4 1190.0,160.4 1208.9,160.4 1234.8,160.4" fill="none" stroke="#e000e0" stroke-width="2.2" stroke-linejoin="round"/>
<rect x="696.5" y="305.2" width="5.2" height="4.8" fill="none" stroke="#e000e0" stroke-width="1.8"/>
<rect x="776.9" y="199.5" width="5.2" height="4.8" fill="none" stroke="#e000e0" stroke-width="1.8"/>
<rect x="851.5" y="178.4" width="5.2" height="4.8" fill="none" stroke="#e000e0" stroke-width="1.8"/>
<rect x="927.0" y="169.6" width="5.2" height="4.8" fill="none" stroke="#e000e0" stroke-width="1.8"/>
<rect x="980.5" y="163.2" width="5.2" height="4.8" fill="none" stroke="#e000e0" stroke-width="1.8"/>
<rect x="1038.2" y="159.5" width="5.2" height="4.8" fill="none" stroke="#e000e0" stroke-width="1.8"/>
<rect x="1098.8" y="158.9" width="5.2" height="4.8" fill="none" stroke="#e000e0" stroke-width="1.8"/>
<rect x="1143.1" y="158.9" width="5.2" height="4.8" fill="none" stroke="#e000e0" stroke-width="1.8"/>
<rect x="1187.4" y="158.0" width="5.2" height="4.8" fill="none" stroke="#e000e0" stroke-width="1.8"/>
<rect x="1232.2" y="158.0" width="5.2" height="4.8" fill="none" stroke="#e000e0" stroke-width="1.8"/>
<polyline points="677.7,350.0 679.0,320.0 682.0,290.0 686.0,260.0 690.0,235.0 695.0,210.0 701.0,180.0 707.0,155.0 715.2,137.9 724.3,128.7 732.6,124.5 743.3,116.9 755.5,112.3 773.8,106.2 792.1,101.6 834.9,101.6 860.0,98.5 905.8,97.9 936.3,95.5 965.3,94.0 997.4,94.0 1021.8,94.9 1044.0,93.1 1085.2,91.8 1135.6,91.8 1189.0,90.9 1233.9,90.9" fill="none" stroke="#0000d8" stroke-width="2.2" stroke-dasharray="5.7 3.8 1.2 3.8" stroke-linejoin="round"/>
<ellipse cx="732.6" cy="124.5" rx="2" ry="1.8" fill="#0000d8"/>
<ellipse cx="905.8" cy="97.9" rx="2" ry="1.8" fill="#0000d8"/>
<ellipse cx="965.3" cy="94.0" rx="2" ry="1.8" fill="#0000d8"/>
<ellipse cx="1021.8" cy="94.9" rx="2" ry="1.8" fill="#0000d8"/>
<ellipse cx="1085.2" cy="91.8" rx="2" ry="1.8" fill="#0000d8"/>
<ellipse cx="1135.6" cy="91.8" rx="2" ry="1.8" fill="#0000d8"/>
<ellipse cx="1233.9" cy="90.9" rx="2" ry="1.8" fill="#0000d8"/>
<polyline points="678.0,353.0 680.0,320.0 684.1,271.0 689.2,234.4 694.2,210.0 700.0,185.0 705.0,160.0 713.0,140.0 725.0,132.0 742.7,117.2 758.7,111.5 774.7,104.7 790.8,103.5 844.0,95.5 860.0,91.8 890.5,88.8 922.0,88.5 951.6,86.3 975.4,85.7 1006.6,84.2 1040.8,83.3 1060.0,81.8 1098.0,81.1 1144.8,79.6 1185.4,79.6 1237.0,79.6" fill="none" stroke="#0000d8" stroke-width="2.2" stroke-dasharray="6 6.3" stroke-linejoin="round"/>
<rect x="686.6" y="232.0" width="5.2" height="4.8" fill="none" stroke="#0000d8" stroke-width="1.8"/>
<rect x="772.1" y="102.3" width="5.2" height="4.8" fill="none" stroke="#0000d8" stroke-width="1.8"/>
<rect x="841.4" y="93.1" width="5.2" height="4.8" fill="none" stroke="#0000d8" stroke-width="1.8"/>
<rect x="919.4" y="86.1" width="5.2" height="4.8" fill="none" stroke="#0000d8" stroke-width="1.8"/>
<rect x="972.8" y="83.3" width="5.2" height="4.8" fill="none" stroke="#0000d8" stroke-width="1.8"/>
<rect x="1038.2" y="80.9" width="5.2" height="4.8" fill="none" stroke="#0000d8" stroke-width="1.8"/>
<rect x="1095.4" y="78.7" width="5.2" height="4.8" fill="none" stroke="#0000d8" stroke-width="1.8"/>
<rect x="1142.2" y="77.2" width="5.2" height="4.8" fill="none" stroke="#0000d8" stroke-width="1.8"/>
<rect x="1182.8" y="77.2" width="5.2" height="4.8" fill="none" stroke="#0000d8" stroke-width="1.8"/>
<rect x="1234.4" y="77.2" width="5.2" height="4.8" fill="none" stroke="#0000d8" stroke-width="1.8"/>
<polyline points="677.7,351.9 677.7,336.6 679.3,306.1 682.3,275.5 686.9,245.0 692.4,221.6 698.5,191.1 704.6,160.5 712.3,139.2 725.0,131.4 732.6,123.7 746.3,116.1 761.6,110.0 773.8,104.7 786.0,103.1 807.4,100.1 828.8,97.0 844.0,95.5 860.0,92.4 875.3,90.0 915.0,84.8 922.6,75.6 928.7,82.7 940.0,82.4 963.8,80.2 994.4,75.6 1024.9,75.6 1055.6,75.0 1080.6,74.1 1111.8,72.6 1135.6,70.5 1160.0,69.5 1187.5,68.6 1214.4,66.5 1231.8,66.5" fill="none" stroke="#0000d8" stroke-width="2.2" stroke-linejoin="round"/>
<ellipse cx="677.7" cy="351.9" rx="2.5" ry="2.3" fill="none" stroke="#0000d8" stroke-width="1.8"/>
<ellipse cx="732.6" cy="123.7" rx="2.5" ry="2.3" fill="none" stroke="#0000d8" stroke-width="1.8"/>
<ellipse cx="807.4" cy="100.1" rx="2.5" ry="2.3" fill="none" stroke="#0000d8" stroke-width="1.8"/>
<ellipse cx="875.3" cy="90.0" rx="2.5" ry="2.3" fill="none" stroke="#0000d8" stroke-width="1.8"/>
<ellipse cx="940.0" cy="82.4" rx="2.5" ry="2.3" fill="none" stroke="#0000d8" stroke-width="1.8"/>
<ellipse cx="994.4" cy="75.6" rx="2.5" ry="2.3" fill="none" stroke="#0000d8" stroke-width="1.8"/>
<ellipse cx="1055.6" cy="75.0" rx="2.5" ry="2.3" fill="none" stroke="#0000d8" stroke-width="1.8"/>
<ellipse cx="1111.8" cy="72.6" rx="2.5" ry="2.3" fill="none" stroke="#0000d8" stroke-width="1.8"/>
<ellipse cx="1160.0" cy="69.5" rx="2.5" ry="2.3" fill="none" stroke="#0000d8" stroke-width="1.8"/>
<ellipse cx="1214.4" cy="66.5" rx="2.5" ry="2.3" fill="none" stroke="#0000d8" stroke-width="1.8"/>
<path d="M47.5,19V362.5H610.5" fill="none" stroke="#000" stroke-width="1"/>
<path d="M47.5,335.4H52.5" stroke="#000" stroke-width="1"/>
<text x="20.1" y="340.0" font-size="10.3" textLength="24.9" lengthAdjust="spacingAndGlyphs" text-anchor="start">0.05</text>
<path d="M47.5,303.6H52.5" stroke="#000" stroke-width="1"/>
<text x="20.1" y="308.2" font-size="10.3" textLength="24.9" lengthAdjust="spacingAndGlyphs" text-anchor="start">0.06</text>
<path d="M47.5,271.8H52.5" stroke="#000" stroke-width="1"/>
<text x="20.1" y="276.4" font-size="10.3" textLength="24.9" lengthAdjust="spacingAndGlyphs" text-anchor="start">0.07</text>
<path d="M47.5,240.1H52.5" stroke="#000" stroke-width="1"/>
<text x="20.1" y="244.7" font-size="10.3" textLength="24.9" lengthAdjust="spacingAndGlyphs" text-anchor="start">0.08</text>
<path d="M47.5,208.3H52.5" stroke="#000" stroke-width="1"/>
<text x="20.1" y="212.9" font-size="10.3" textLength="24.9" lengthAdjust="spacingAndGlyphs" text-anchor="start">0.09</text>
<path d="M47.5,176.5H52.5" stroke="#000" stroke-width="1"/>
<text x="27.2" y="181.1" font-size="10.3" textLength="17.8" lengthAdjust="spacingAndGlyphs" text-anchor="start">0.1</text>
<path d="M47.5,144.7H52.5" stroke="#000" stroke-width="1"/>
<text x="20.1" y="149.3" font-size="10.3" textLength="24.9" lengthAdjust="spacingAndGlyphs" text-anchor="start">0.11</text>
<path d="M47.5,112.9H52.5" stroke="#000" stroke-width="1"/>
<text x="20.1" y="117.5" font-size="10.3" textLength="24.9" lengthAdjust="spacingAndGlyphs" text-anchor="start">0.12</text>
<path d="M47.5,81.2H52.5" stroke="#000" stroke-width="1"/>
<text x="20.1" y="85.8" font-size="10.3" textLength="24.9" lengthAdjust="spacingAndGlyphs" text-anchor="start">0.13</text>
<path d="M47.5,49.4H52.5" stroke="#000" stroke-width="1"/>
<text x="20.1" y="54.0" font-size="10.3" textLength="24.9" lengthAdjust="spacingAndGlyphs" text-anchor="start">0.14</text>
<path d="M134.7,362.5V357.5" stroke="#000" stroke-width="1"/>
<text x="126.5" y="376.8" font-size="10.3" textLength="17.8" lengthAdjust="spacingAndGlyphs" text-anchor="start">0.5</text>
<path d="M229.8,362.5V357.5" stroke="#000" stroke-width="1"/>
<text x="226.9" y="376.8" font-size="10.3" textLength="7.1" lengthAdjust="spacingAndGlyphs" text-anchor="start">1</text>
<path d="M324.9,362.5V357.5" stroke="#000" stroke-width="1"/>
<text x="316.7" y="376.8" font-size="10.3" textLength="17.8" lengthAdjust="spacingAndGlyphs" text-anchor="start">1.5</text>
<path d="M419.9,362.5V357.5" stroke="#000" stroke-width="1"/>
<text x="417.1" y="376.8" font-size="10.3" textLength="7.1" lengthAdjust="spacingAndGlyphs" text-anchor="start">2</text>
<path d="M515.0,362.5V357.5" stroke="#000" stroke-width="1"/>
<text x="506.8" y="376.8" font-size="10.3" textLength="17.8" lengthAdjust="spacingAndGlyphs" text-anchor="start">2.5</text>
<path d="M610.1,362.5V357.5" stroke="#000" stroke-width="1"/>
<text x="607.2" y="376.8" font-size="10.3" textLength="7.1" lengthAdjust="spacingAndGlyphs" text-anchor="start">3</text>
<text x="248.0" y="389.9" font-size="12" textLength="149.7" lengthAdjust="spacingAndGlyphs" text-anchor="start">False Alarms per hour</text>
<text x="265.4" y="9.6" font-size="12" textLength="118.4" lengthAdjust="spacingAndGlyphs" text-anchor="start">play−music:cafe0</text>
<g transform="translate(10.8,232.7) rotate(-90)"><text x="0.0" y="0.0" font-size="12.3" textLength="77.6" lengthAdjust="spacingAndGlyphs" text-anchor="start">False Rejects</text></g>
<path d="M672.5,16V362.5H1237.5" fill="none" stroke="#000" stroke-width="1"/>
<path d="M672.5,350.5H677.5" stroke="#000" stroke-width="1"/>
<text x="646.0" y="355.4" font-size="10.6" textLength="24.2" lengthAdjust="spacingAndGlyphs" text-anchor="start">96.4</text>
<path d="M672.5,318.9H677.5" stroke="#000" stroke-width="1"/>
<text x="646.0" y="323.8" font-size="10.6" textLength="24.2" lengthAdjust="spacingAndGlyphs" text-anchor="start">96.6</text>
<path d="M672.5,287.3H677.5" stroke="#000" stroke-width="1"/>
<text x="646.0" y="292.2" font-size="10.6" textLength="24.2" lengthAdjust="spacingAndGlyphs" text-anchor="start">96.8</text>
<path d="M672.5,255.7H677.5" stroke="#000" stroke-width="1"/>
<text x="655.4" y="260.6" font-size="10.6" textLength="14.8" lengthAdjust="spacingAndGlyphs" text-anchor="start">97</text>
<path d="M672.5,224.1H677.5" stroke="#000" stroke-width="1"/>
<text x="646.0" y="229.0" font-size="10.6" textLength="24.2" lengthAdjust="spacingAndGlyphs" text-anchor="start">97.2</text>
<path d="M672.5,192.4H677.5" stroke="#000" stroke-width="1"/>
<text x="646.0" y="197.3" font-size="10.6" textLength="24.2" lengthAdjust="spacingAndGlyphs" text-anchor="start">97.4</text>
<path d="M672.5,160.8H677.5" stroke="#000" stroke-width="1"/>
<text x="646.0" y="165.7" font-size="10.6" textLength="24.2" lengthAdjust="spacingAndGlyphs" text-anchor="start">97.6</text>
<path d="M672.5,129.2H677.5" stroke="#000" stroke-width="1"/>
<text x="646.0" y="134.1" font-size="10.6" textLength="24.2" lengthAdjust="spacingAndGlyphs" text-anchor="start">97.8</text>
<path d="M672.5,97.6H677.5" stroke="#000" stroke-width="1"/>
<text x="655.4" y="102.5" font-size="10.6" textLength="14.8" lengthAdjust="spacingAndGlyphs" text-anchor="start">98</text>
<path d="M672.5,66.0H677.5" stroke="#000" stroke-width="1"/>
<text x="646.0" y="70.9" font-size="10.6" textLength="24.2" lengthAdjust="spacingAndGlyphs" text-anchor="start">98.2</text>
<path d="M672.5,34.4H677.5" stroke="#000" stroke-width="1"/>
<text x="646.0" y="39.3" font-size="10.6" textLength="24.2" lengthAdjust="spacingAndGlyphs" text-anchor="start">98.4</text>
<path d="M734.5,362.5V357.5" stroke="#000" stroke-width="1"/>
<text x="731.3" y="377.9" font-size="10.6" textLength="7.5" lengthAdjust="spacingAndGlyphs" text-anchor="start">5</text>
<path d="M800.8,362.5V357.5" stroke="#000" stroke-width="1"/>
<text x="793.8" y="377.9" font-size="10.6" textLength="15.1" lengthAdjust="spacingAndGlyphs" text-anchor="start">10</text>
<path d="M867.1,362.5V357.5" stroke="#000" stroke-width="1"/>
<text x="860.1" y="377.9" font-size="10.6" textLength="15.1" lengthAdjust="spacingAndGlyphs" text-anchor="start">15</text>
<path d="M933.3,362.5V357.5" stroke="#000" stroke-width="1"/>
<text x="926.4" y="377.9" font-size="10.6" textLength="15.1" lengthAdjust="spacingAndGlyphs" text-anchor="start">20</text>
<path d="M999.6,362.5V357.5" stroke="#000" stroke-width="1"/>
<text x="992.7" y="377.9" font-size="10.6" textLength="15.1" lengthAdjust="spacingAndGlyphs" text-anchor="start">25</text>
<path d="M1065.9,362.5V357.5" stroke="#000" stroke-width="1"/>
<text x="1059.0" y="377.9" font-size="10.6" textLength="15.1" lengthAdjust="spacingAndGlyphs" text-anchor="start">30</text>
<path d="M1132.2,362.5V357.5" stroke="#000" stroke-width="1"/>
<text x="1125.3" y="377.9" font-size="10.6" textLength="15.1" lengthAdjust="spacingAndGlyphs" text-anchor="start">35</text>
<path d="M1198.5,362.5V357.5" stroke="#000" stroke-width="1"/>
<text x="1191.5" y="377.9" font-size="10.6" textLength="15.1" lengthAdjust="spacingAndGlyphs" text-anchor="start">40</text>
<text x="914.7" y="390.6" font-size="10.5" textLength="73.3" lengthAdjust="spacingAndGlyphs" text-anchor="start">Time (hours)</text>
<text x="888.2" y="8.0" font-size="10.2" textLength="122.3" lengthAdjust="spacingAndGlyphs" text-anchor="start">play−music:accuracy</text>
<g transform="translate(636.8,225.5) rotate(-90)"><text x="0.0" y="0.0" font-size="12.3" textLength="66.4" lengthAdjust="spacingAndGlyphs" text-anchor="start">Accuracy (%)</text></g>
<rect x="370.5" y="19.5" width="224.70000000000005" height="181.3" fill="#fff" stroke="#000" stroke-width="1"/>
<line x1="377.8" y1="29.0" x2="415.2" y2="29.0" stroke="#000000" stroke-width="2.2"/>
<ellipse cx="396.5" cy="29.0" rx="2.5" ry="2.3" fill="none" stroke="#000000" stroke-width="1.8"/>
<text x="420.5" y="33.1" font-size="10.5" textLength="124.9" lengthAdjust="spacingAndGlyphs">fullyconnected (2.8M)</text>
<line x1="377.8" y1="45.3" x2="415.2" y2="45.3" stroke="#000000" stroke-width="2.2" stroke-dasharray="6 6.3"/>
<ellipse cx="396.5" cy="45.3" rx="2.5" ry="2.3" fill="none" stroke="#000000" stroke-width="1.8"/>
<text x="420.5" y="49.4" font-size="10.5" textLength="98.0" lengthAdjust="spacingAndGlyphs">reference (122K)</text>
<line x1="377.8" y1="61.7" x2="415.2" y2="61.7" stroke="#e00000" stroke-width="1.3" stroke-dasharray="1 3.6"/>
<ellipse cx="396.5" cy="61.7" rx="2" ry="1.8" fill="#e00000"/>
<text x="420.5" y="65.8" font-size="10.5" textLength="98.7" lengthAdjust="spacingAndGlyphs">lowrank4 (13.4K)</text>
<line x1="377.8" y1="78.0" x2="415.2" y2="78.0" stroke="#e00000" stroke-width="2.2" stroke-dasharray="6 6.3"/>
<path d="M393.5,78.0H398.5M396.5,76.0L399.5,78.0L396.5,80.0" fill="none" stroke="#e00000" stroke-width="1.8"/>
<text x="420.5" y="82.1" font-size="10.5" textLength="98.7" lengthAdjust="spacingAndGlyphs">lowrank8 (26.8K)</text>
<line x1="377.8" y1="94.3" x2="415.2" y2="94.3" stroke="#e00000" stroke-width="2.2" stroke-dasharray="5.7 3.8 1.2 3.8" stroke-dashoffset="9.5"/>
<rect x="393.9" y="91.9" width="5.2" height="4.8" fill="none" stroke="#e00000" stroke-width="1.8"/>
<text x="420.5" y="98.4" font-size="10.5" textLength="106.0" lengthAdjust="spacingAndGlyphs">lowrank16 (53.6K)</text>
<line x1="377.8" y1="110.6" x2="415.2" y2="110.6" stroke="#e00000" stroke-width="2.2"/>
<ellipse cx="396.5" cy="110.6" rx="2.5" ry="2.3" fill="none" stroke="#e00000" stroke-width="1.8"/>
<text x="420.5" y="114.7" font-size="10.5" textLength="102.4" lengthAdjust="spacingAndGlyphs">lowrank32 (107K)</text>
<line x1="377.8" y1="127.0" x2="415.2" y2="127.0" stroke="#00e0e0" stroke-width="2.2"/>
<ellipse cx="396.5" cy="127.0" rx="2.5" ry="2.3" fill="none" stroke="#00e0e0" stroke-width="1.8"/>
<text x="420.5" y="131.1" font-size="10.5" textLength="90.0" lengthAdjust="spacingAndGlyphs">circulant (1674)</text>
<line x1="377.8" y1="143.3" x2="415.2" y2="143.3" stroke="#e000e0" stroke-width="2.2"/>
<rect x="393.9" y="140.9" width="5.2" height="4.8" fill="none" stroke="#e000e0" stroke-width="1.8"/>
<text x="420.5" y="147.4" font-size="10.5" textLength="87.8" lengthAdjust="spacingAndGlyphs">fastfood (5022)</text>
<line x1="377.8" y1="159.6" x2="415.2" y2="159.6" stroke="#0000d8" stroke-width="2.2" stroke-dasharray="5.7 3.8 1.2 3.8" stroke-dashoffset="9.5"/>
<ellipse cx="396.5" cy="159.6" rx="2" ry="1.8" fill="#0000d8"/>
<text x="420.5" y="163.7" font-size="10.5" textLength="147.0" lengthAdjust="spacingAndGlyphs">toeplitz−disprank1 (3348)</text>
<line x1="377.8" y1="176.0" x2="415.2" y2="176.0" stroke="#0000d8" stroke-width="2.2" stroke-dasharray="6 6.3"/>
<rect x="393.9" y="173.6" width="5.2" height="4.8" fill="none" stroke="#0000d8" stroke-width="1.8"/>
<text x="420.5" y="180.1" font-size="10.5" textLength="147.0" lengthAdjust="spacingAndGlyphs">toeplitz−disprank2 (6696)</text>
<line x1="377.8" y1="192.3" x2="415.2" y2="192.3" stroke="#0000d8" stroke-width="2.2"/>
<ellipse cx="396.5" cy="192.3" rx="2.5" ry="2.3" fill="none" stroke="#0000d8" stroke-width="1.8"/>
<text x="420.5" y="196.4" font-size="10.5" textLength="159.4" lengthAdjust="spacingAndGlyphs">toeplitz−disprank10 (33.5K)</text>
<rect x="1012.5" y="169.7" width="197.0" height="187.3" fill="#fff" stroke="#000" stroke-width="1"/>
<line x1="1018.2" y1="179.1" x2="1051.7" y2="179.1" stroke="#000000" stroke-width="2.2"/>
<ellipse cx="1035.0" cy="179.1" rx="2.5" ry="2.3" fill="none" stroke="#000000" stroke-width="1.8"/>
<text x="1055.8" y="182.9" font-size="10.5" textLength="124.9" lengthAdjust="spacingAndGlyphs">fullyconnected (2.8M)</text>
<line x1="1018.2" y1="195.9" x2="1051.7" y2="195.9" stroke="#000000" stroke-width="2.2" stroke-dasharray="6 6.3"/>
<ellipse cx="1035.0" cy="195.9" rx="2.5" ry="2.3" fill="none" stroke="#000000" stroke-width="1.8"/>
<text x="1055.8" y="199.7" font-size="10.5" textLength="98.0" lengthAdjust="spacingAndGlyphs">reference (122K)</text>
<line x1="1018.2" y1="212.8" x2="1051.7" y2="212.8" stroke="#e00000" stroke-width="1.3" stroke-dasharray="1 3.6"/>
<ellipse cx="1035.0" cy="212.8" rx="2" ry="1.8" fill="#e00000"/>
<text x="1055.8" y="216.6" font-size="10.5" textLength="98.7" lengthAdjust="spacingAndGlyphs">lowrank4 (13.4K)</text>
<line x1="1018.2" y1="229.6" x2="1051.7" y2="229.6" stroke="#e00000" stroke-width="2.2" stroke-dasharray="6 6.3"/>
<path d="M1032.0,229.6H1037.0M1035.0,227.6L1038.0,229.6L1035.0,231.6" fill="none" stroke="#e00000" stroke-width="1.8"/>
<text x="1055.8" y="233.4" font-size="10.5" textLength="98.7" lengthAdjust="spacingAndGlyphs">lowrank8 (26.8K)</text>
<line x1="1018.2" y1="246.4" x2="1051.7" y2="246.4" stroke="#e00000" stroke-width="2.2" stroke-dasharray="5.7 3.8 1.2 3.8" stroke-dashoffset="9.5"/>
<rect x="1032.4" y="244.0" width="5.2" height="4.8" fill="none" stroke="#e00000" stroke-width="1.8"/>
<text x="1055.8" y="250.2" font-size="10.5" textLength="106.0" lengthAdjust="spacingAndGlyphs">lowrank16 (53.6K)</text>
<line x1="1018.2" y1="263.2" x2="1051.7" y2="263.2" stroke="#e00000" stroke-width="2.2"/>
<ellipse cx="1035.0" cy="263.2" rx="2.5" ry="2.3" fill="none" stroke="#e00000" stroke-width="1.8"/>
<text x="1055.8" y="267.1" font-size="10.5" textLength="102.4" lengthAdjust="spacingAndGlyphs">lowrank32 (107K)</text>
<line x1="1018.2" y1="280.1" x2="1051.7" y2="280.1" stroke="#00e0e0" stroke-width="2.2"/>
<ellipse cx="1035.0" cy="280.1" rx="2.5" ry="2.3" fill="none" stroke="#00e0e0" stroke-width="1.8"/>
<text x="1055.8" y="283.9" font-size="10.5" textLength="90.0" lengthAdjust="spacingAndGlyphs">circulant (1674)</text>
<line x1="1018.2" y1="296.9" x2="1051.7" y2="296.9" stroke="#e000e0" stroke-width="2.2"/>
<rect x="1032.4" y="294.5" width="5.2" height="4.8" fill="none" stroke="#e000e0" stroke-width="1.8"/>
<text x="1055.8" y="300.7" font-size="10.5" textLength="87.8" lengthAdjust="spacingAndGlyphs">fastfood (5022)</text>
<line x1="1018.2" y1="313.7" x2="1051.7" y2="313.7" stroke="#0000d8" stroke-width="2.2" stroke-dasharray="5.7 3.8 1.2 3.8" stroke-dashoffset="9.5"/>
<ellipse cx="1035.0" cy="313.7" rx="2" ry="1.8" fill="#0000d8"/>
<text x="1055.8" y="317.5" font-size="10.5" textLength="147.0" lengthAdjust="spacingAndGlyphs">toeplitz−disprank1 (3348)</text>
<line x1="1018.2" y1="330.6" x2="1051.7" y2="330.6" stroke="#0000d8" stroke-width="2.2" stroke-dasharray="6 6.3"/>
<rect x="1032.4" y="328.2" width="5.2" height="4.8" fill="none" stroke="#0000d8" stroke-width="1.8"/>
<text x="1055.8" y="334.4" font-size="10.5" textLength="147.0" lengthAdjust="spacingAndGlyphs">toeplitz−disprank2 (6696)</text>
<line x1="1018.2" y1="347.4" x2="1051.7" y2="347.4" stroke="#0000d8" stroke-width="2.2"/>
<ellipse cx="1035.0" cy="347.4" rx="2.5" ry="2.3" fill="none" stroke="#0000d8" stroke-width="1.8"/>
<text x="1055.8" y="351.2" font-size="10.5" textLength="159.4" lengthAdjust="spacingAndGlyphs">toeplitz−disprank10 (33.5K)</text>
</svg>
</body></html>
